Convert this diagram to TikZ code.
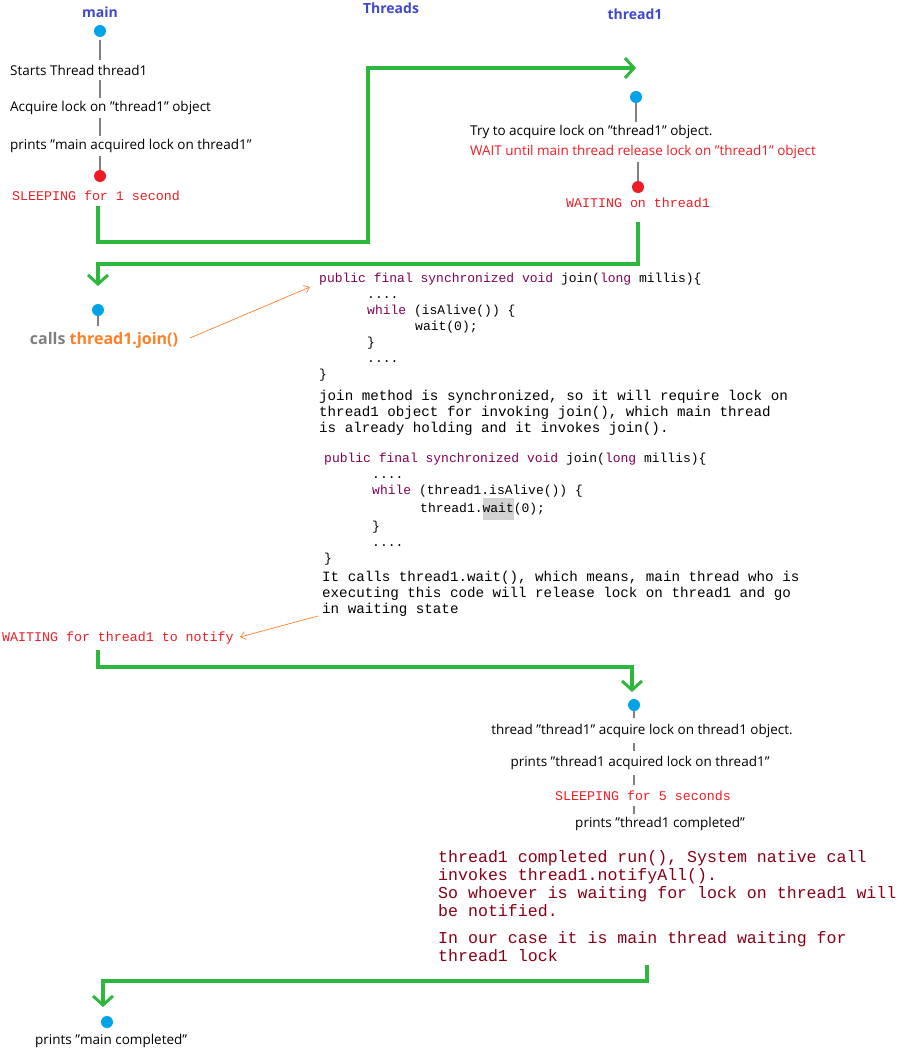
\documentclass[tikz,border=0pt]{standalone}
\usepackage{fontspec}
\setmainfont{Open Sans}
\newfontfamily\cmono{Liberation Mono}
\usetikzlibrary{arrows.meta}
\newcommand\qq{\symbol{34}}
\definecolor{hdr}{HTML}{3F48CC}
\definecolor{dotb}{HTML}{00A2E8}
\definecolor{gr}{HTML}{2DB83D}
\definecolor{rd}{HTML}{ED1C24}
\definecolor{dr}{HTML}{880015}
\definecolor{kw}{HTML}{7F0055}
\definecolor{org}{HTML}{FF7F27}
\begin{document}
\begin{tikzpicture}[x=1pt,y=-1pt,
 hd/.style={font=\fontsize{14}{16}\selectfont\bfseries,text=hdr},
 bdot/.style={circle,fill=dotb,minimum size=12pt,inner sep=0pt},
 rdot/.style={circle,fill=rd,minimum size=12pt,inner sep=0pt},
 lbl/.style={font=\fontsize{13.5}{15}\selectfont,inner sep=0pt},
 rm/.style={font=\cmono\fontsize{13.3}{15}\selectfont,text=rd,inner sep=0pt},
 code/.style={font=\cmono\fontsize{13}{16}\selectfont,align=left,inner sep=0pt,anchor=north west},
 para/.style={font=\cmono\fontsize{14.2}{16}\selectfont,align=left,inner sep=0pt,anchor=north west},
 dpara/.style={font=\cmono\fontsize{16.6}{18}\selectfont,text=dr,align=left,inner sep=0pt,anchor=north west},
 gdash/.style={gray,line width=2.5pt},
 flow/.style={gr,line width=4pt,-{Straight Barb[length=9pt,width=20pt,line width=3pt]}},
 oarr/.style={org,line width=0.7pt,-{Straight Barb[length=5pt,width=8pt]}}]
\useasboundingbox (0,0) rectangle (905,1054);
\node[hd] (hm) at (100,12) {main};
\node[hd] (ht) at (391,8) {Threads};
\node[hd] (h1) at (635,14) {thread1};
% main column
\node[bdot] (m0) at (100,31) {};
\node[lbl,anchor=west] (m1) at (10,70) {Starts Thread thread1};
\node[lbl,anchor=west] (m2) at (10,108) {Acquire lock on \qq thread1\qq{} object};
\node[lbl,anchor=west] (m3) at (10,146) {prints \qq main acquired lock on thread1\qq};
\node[rdot] (m4) at (100,176) {};
\node[rm,anchor=west] (m5) at (12,196) {SLEEPING for 1 second};
\draw[gdash] (100,40) -- (100,60);
\draw[gdash] (100,80) -- (100,98);
\draw[gdash] (100,118) -- (100,136);
\draw[gdash] (100,156) -- (m4);
% thread1
\node[bdot] (t0) at (636,97) {};
\node[lbl,anchor=west] (t1) at (470,132) {Try to acquire lock on \qq thread1\qq{} object.};
\node[lbl,anchor=west,text=rd] (t2) at (470,152) {WAIT until main thread release lock on \qq thread1\qq{} object};
\node[rdot] (t3) at (638,187) {};
\node[rm] (t4) at (638,203) {WAITING on thread1};
\draw[gdash] (t0) -- (636,122);
\draw[gdash] (638,162) -- (t3);
\coordinate (a1) at (636,68);
\draw[flow] (98,206) -- (98,242) -- (368,242) -- (368,68) -- (a1);
\coordinate (a2) at (98,286);
\draw[flow] (638,222) -- (638,264) -- (98,264) -- (a2);
\node[bdot] (j0) at (98,310) {};
\draw[gdash] (j0) -- (98,326);
\node[inner sep=0pt,font=\fontsize{16}{18}\selectfont\bfseries] (j1) at (104,340) {\textcolor{gray}{calls} \textcolor{org}{thread1.join()}};
\node[code] (c1) at (319,273) {\textcolor{kw}{public final synchronized void} join(\textcolor{kw}{long} millis)\{\\
\hspace*{48pt}....\\
\hspace*{48pt}\textcolor{kw}{while} (isAlive()) \{\\
\hspace*{96pt}wait(0);\\
\hspace*{48pt}\}\\
\hspace*{48pt}....\\
\}};
\draw[oarr] (190,338) -- (310,287);
\node[para] (p1) at (319,390) {join method is synchronized, so it will require lock on\\thread1 object for invoking join(), which main thread\\is already holding and it invokes join().};
\node[code] (c2) at (324,453) {\textcolor{kw}{public final synchronized void} join(\textcolor{kw}{long} millis)\{\\
\hspace*{48pt}....\\
\hspace*{48pt}\textcolor{kw}{while} (thread1.isAlive()) \{\\
\hspace*{96pt}thread1.\colorbox{gray!35}{\strut\hspace*{-3pt}wait\hspace*{-3pt}}(0);\\
\hspace*{48pt}\}\\
\hspace*{48pt}....\\
\}};
\node[para] (p2) at (322,571) {It calls thread1.wait(), which means, main thread who is\\executing this code will release lock on thread1 and go\\in waiting state};
\node[rm,anchor=west] (w1) at (2,638) {WAITING for thread1 to notify};
\draw[oarr] (318,616) -- (240,637);
\coordinate (a3) at (632,692);
\draw[flow] (98,650) -- (98,667) -- (632,667) -- (a3);
\node[bdot] (k0) at (634,705) {};
\node[lbl] (k1) at (642,731) {thread \qq thread1\qq{} acquire lock on thread1 object.};
\node[lbl] (k2) at (640,763) {prints \qq thread1 acquired lock on thread1\qq};
\node[rm] (k3) at (643,796) {SLEEPING for 5 seconds};
\node[lbl] (k4) at (660,824) {prints \qq thread1 completed\qq};
\draw[gdash] (k0) -- (634,718);
\draw[gdash] (634,743) -- (634,751);
\draw[gdash] (634,775) -- (634,785);
\draw[gdash] (634,806) -- (634,814);
\node[dpara] (d1) at (438,850) {thread1 completed run(), System native call\\invokes thread1.notifyAll().\\So whoever is waiting for lock on thread1 will\\be notified.};
\node[dpara] (d2) at (438,931) {In our case it is main thread waiting for\\thread1 lock};
\coordinate (a4) at (103,1007);
\draw[flow] (647,965) -- (647,981) -- (103,981) -- (a4);
\node[bdot] (e0) at (107,1022) {};
\node[lbl,anchor=west] (e1) at (35,1041) {prints \qq main completed\qq};
\end{tikzpicture}
\end{document}
